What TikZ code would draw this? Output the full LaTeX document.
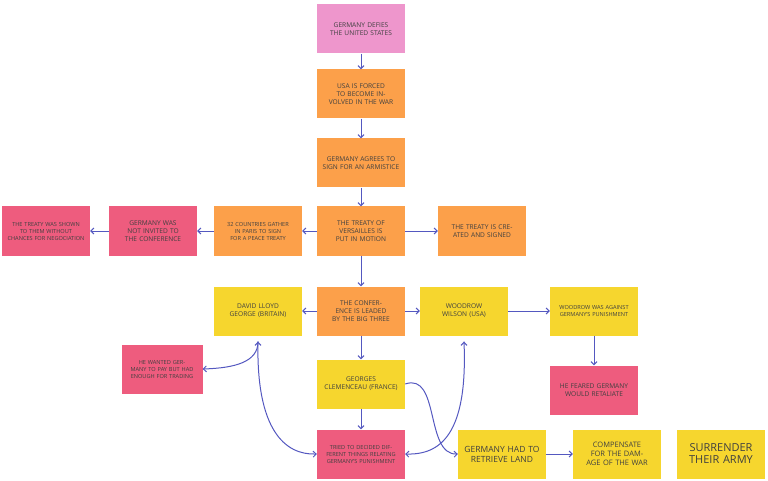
\documentclass[tikz,border=0pt]{standalone}
\usepackage{fontspec}
\setmainfont{Open Sans}
\usetikzlibrary{arrows.meta}
\definecolor{cor}{HTML}{FCA04A}
\definecolor{cye}{HTML}{F6D62E}
\definecolor{cpk}{HTML}{EE5C7E}
\definecolor{clp}{HTML}{EE96CC}
\definecolor{car}{HTML}{5458C0}
\begin{document}
\begin{tikzpicture}[x=1pt,y=-1pt,
 box/.style={minimum width=88pt,minimum height=49pt,text width=80pt,align=center,inner sep=2pt,font=\fontsize{6.6}{8}\selectfont,text=black!75},
 sm/.style={font=\fontsize{5.6}{7}\selectfont},
 ar/.style={draw=car,line width=1pt,-{Straight Barb[length=3pt,width=6pt]}}]
\useasboundingbox (0,0) rectangle (768,481);
\node[box,fill=clp] (a) at (361,29) {GERMANY DEFIES THE UNITED STATES};
\node[box,fill=cor] (b) at (361,94) {USA IS FORCED TO BECOME INVOLVED IN THE WAR};
\node[box,fill=cor] (c) at (361,163) {GERMANY AGREES TO SIGN FOR AN ARMISTICE};
\node[box,fill=cor] (d) at (361,231) {THE TREATY OF VERSAILLES IS PUT IN MOTION};
\node[box,fill=cor,sm] (e) at (258,231) {32 COUNTRIES GATHER IN PARIS TO SIGN FOR A PEACE TREATY};
\node[box,fill=cpk] (f) at (153,231) {GERMANY WAS NOT INVITED TO THE CONFERENCE};
\node[box,fill=cpk,sm] (g) at (46,231) {THE TREATY WAS SHOWN TO THEM WITHOUT CHANCES FOR NEGOCIATION};
\node[box,fill=cor] (h) at (482,231) {THE TREATY IS CREATED AND SIGNED};
\node[box,fill=cor] (i) at (361,311) {THE CONFERENCE IS LEADED BY THE BIG THREE};
\node[box,fill=cye] (j) at (258,311) {DAVID LLOYD GEORGE (BRITAIN)};
\node[box,fill=cye] (k) at (464,311) {WOODROW WILSON (USA)};
\node[box,fill=cye,sm] (l) at (594,311) {WOODROW WAS AGAINST GERMANY'S PUNISHMENT};
\node[box,fill=cpk,sm,minimum width=81pt,text width=76pt] (m) at (162,369) {HE WANTED GERMANY TO PAY BUT HAD ENOUGH FOR TRADING};
\node[box,fill=cye] (n) at (361,384) {GEORGES CLEMENCEAU (FRANCE)};
\node[box,fill=cpk] (o) at (594,390) {HE FEARED GERMANY WOULD RETALIATE};
\node[box,fill=cpk,sm] (p) at (361,454) {TRIED TO DECIDED DIFFERENT THINGS RELATING GERMANY'S PUNISHMENT};
\node[box,fill=cye,font=\fontsize{8.5}{10}\selectfont] (q) at (502,454) {GERMANY HAD TO RETRIEVE LAND};
\node[box,fill=cye,font=\fontsize{7.5}{9}\selectfont] (r) at (617,454) {COMPENSATE FOR THE DAMAGE OF THE WAR};
\node[box,fill=cye,font=\fontsize{11}{12}\selectfont] (s) at (721,454) {SURRENDER THEIR ARMY};
\draw[ar] (a) -- (b);
\draw[ar] (b) -- (c);
\draw[ar] (c) -- (d);
\draw[ar] (d) -- (e);
\draw[ar] (e) -- (f);
\draw[ar] (f) -- (g);
\draw[ar] (d) -- (h);
\draw[ar] (d) -- (i);
\draw[ar] (i) -- (j);
\draw[ar] (i) -- (k);
\draw[ar] (k) -- (l);
\draw[ar] (l) -- (o);
\draw[ar] (i) -- (n);
\draw[ar] (n) -- (p);
\draw[ar] (q) -- (r);
\draw[ar] (j.south) ++(0,6) coordinate (j1);
\draw[ar] (j1) .. controls (258,362) and (235,368) .. (m.east);
\draw[ar] (j1) .. controls (256,430) and (285,455) .. (p.west);
\draw[ar] (k.south) ++(0,6) coordinate (k1);
\draw[ar] (k1) .. controls (468,435) and (440,455) .. (p.east);
\draw[ar] (n.east) .. controls (440,372) and (425,455) .. (q.west);
\end{tikzpicture}
\end{document}
